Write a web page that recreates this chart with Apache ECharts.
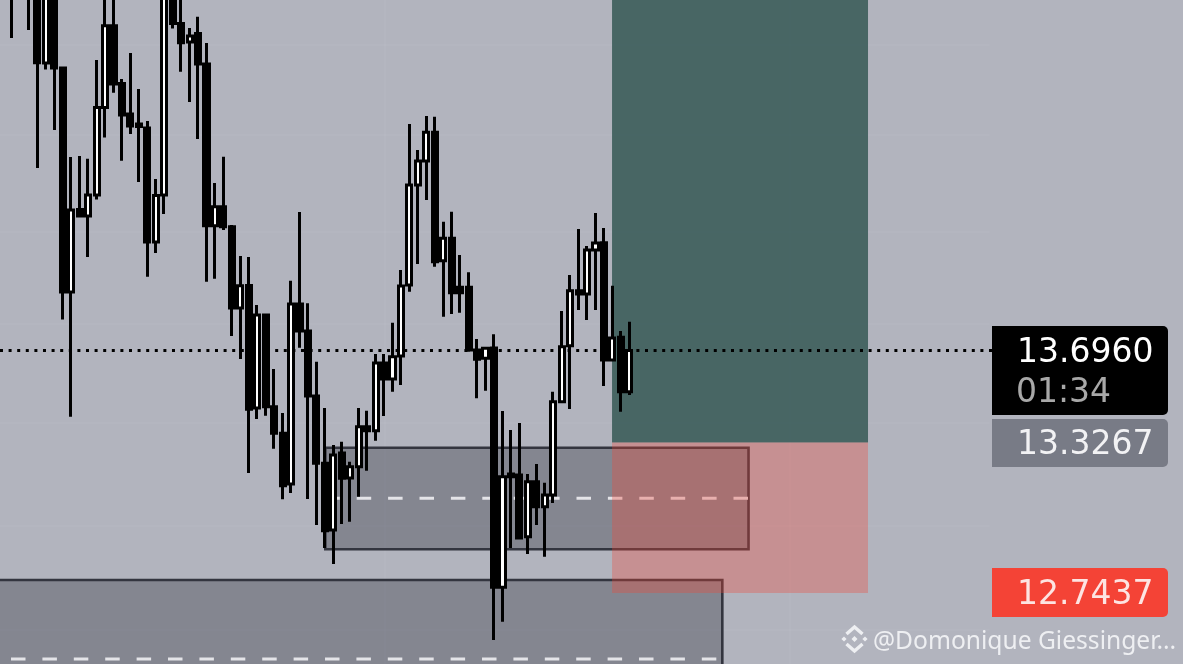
<!DOCTYPE html>
<html>
<head>
<meta charset="utf-8">
<title>chart</title>
<style>
html,body{margin:0;padding:0;background:#b2b4be;}
#main{width:1183px;height:664px;}
</style>
<script src="https://cdn.jsdelivr.net/npm/echarts@6/dist/echarts.min.js"></script>
</head>
<body>
<div id="main"></div>
<script>
"use strict";
/*candles, values. bars above the top edge are estimates*/
let opens = [15.1038,15.2491,15.151,15.1902,14.825,15.1706,14.8054,13.9257,14.2497,14.2242,
    14.3066,14.6502,14.9715,14.7445,14.6247,14.5854,14.5697,14.1221,14.3066,15.1313,
    14.9801,14.9075,14.9408,14.8211,14.1861,14.2607,14.1822,13.8629,13.9513,13.4702,
    13.8354,13.4753,13.3708,13.1717,13.8786,13.7726,13.5173,13.253,12.9911,13.2935,
    13.1953,13.2397,13.3967,13.381,13.6469,13.5841,13.6744,13.9532,14.3459,14.4402,
    14.5529,14.0486,14.1366,13.9442,13.9442,13.6979,13.6654,13.7058,12.7661,13.211,
    13.2071,12.9648,13.1808,13.0826,13.1285,13.4949,13.7148,13.9308,13.9179,14.0906,
    14.1193,13.6587,13.7478,13.5342];
let closes = [15.0842,15.1313,15.1038,14.8262,15.1706,14.8054,13.9257,14.2477,14.2242,14.3066,
    14.6502,14.9715,14.7425,14.6208,14.5776,14.5756,14.1221,14.3047,15.1313,14.9801,
    14.9047,14.931,14.8211,14.1861,14.2607,14.1822,13.8629,13.9505,13.4651,13.8354,
    13.4753,13.3708,13.1651,13.8786,13.7726,13.5173,13.253,12.9883,13.2856,13.1941,
    13.2397,13.3967,13.381,13.6469,13.5841,13.6717,13.9493,14.3459,14.4402,14.5529,
    14.0447,14.1366,13.923,13.923,13.6979,13.6614,13.7046,12.7661,13.2004,13.2004,
    12.9597,13.1808,13.0826,13.1285,13.4949,13.7109,13.9308,13.9179,14.0906,14.1181,
    13.6587,13.7451,13.5342,13.696];
let lows = [14.9232,15.1038,14.9546,14.4127,14.7995,14.5619,13.8177,13.436,14.2183,14.0632,
    14.289,14.5324,14.7084,14.4413,14.5462,14.3577,13.9858,14.0789,14.232,14.9605,
    14.7908,14.6718,14.5265,13.9662,13.978,14.1692,13.7529,13.6626,13.2149,13.427,
    13.44,13.3103,13.1116,13.1364,13.707,13.1128,13.0107,12.9204,12.8576,13.0146,
    13.0237,13.1219,13.224,13.3417,13.4388,13.5342,13.5605,13.9269,14.0357,14.287,
    14.0251,13.8287,13.8393,13.8444,13.6913,13.5083,13.5381,12.5592,12.631,12.9204,
    12.9597,12.8968,13.0107,12.8862,13.0971,13.4938,13.4663,13.855,13.8158,13.855,
    13.5566,13.6587,13.4557,13.5212];
let highs = [15.1706,15.308,15.2295,15.2688,15.2295,15.2295,14.8093,14.4559,14.4598,14.4492,
    14.8368,15.1117,15.1117,14.7622,14.8643,14.7229,14.5972,14.3695,15.1902,15.1902,
    15.1117,14.9624,15.0068,14.9035,14.3538,14.457,14.1888,14.0671,14.0632,13.8747,
    13.8354,13.6233,13.4506,13.9701,14.2399,13.8813,13.652,13.4702,13.3249,13.3378,
    13.2593,13.4702,13.4596,13.6823,13.6823,13.8052,14.0121,14.5854,14.4834,14.6169,
    14.6141,14.2018,14.2411,14.071,14.0031,13.7412,13.7085,13.7596,13.4584,13.3838,
    13.4113,13.211,13.2503,13.1768,13.5342,13.8511,13.9925,14.1731,14.1064,14.2359,
    14.177,13.9505,13.7726,13.8091];

/*price levels*/
let gridLevels = [14.8957,14.5423,14.1614,13.8,13.4113,13.0067,12.5984];
let gridBars = [44.1,92];
let lastPrice = 13.696;
let entryPrice = 13.3347;
let stopPrice = 12.7437;

/*zones: first bar, last bar, low price, high price*/
let demandZoneUpper = [37.05,87.1,12.9153,13.3143];
let demandZoneLower = [-6,84,12.3,12.7947];
let profitZone = [70.96,101.23,entryPrice,15.3];
let lossZone = [70.96,101.23,stopPrice,entryPrice];
let upperMidLine = [37.05,87.1,13.1156];
let lowerMidLine = [-3.83,84,12.4845];

/*price tags on the right*/
let tagLast = "13.6960";
let tagCountdown = "01:34";
let tagEntry = "13.3267";
let tagStop = "12.7437";
let watermark = "@Domonique Giessinger...";

let bars = opens.map((o,i)=>[i,o,closes[i],lows[i],highs[i]]);

let boxSeries = function(box,fill,stroke,z){
    return {
        type:"custom",
        z:z,
        silent:true,
        clip:true,
        data:[box],
        renderItem(params,api){
            let a = api.coord([api.value(0),api.value(3)]);
            let b = api.coord([api.value(1),api.value(2)]);
            return {
                type:"rect",
                shape:{x:a[0],y:a[1],width:b[0]-a[0],height:b[1]-a[1]},
                style:{fill:fill,stroke:stroke,lineWidth:stroke?2.6:0}
            };
        }
    };
};

let levelSeries = function(line,color,width,dash,z){
    return {
        type:"custom",
        z:z,
        silent:true,
        clip:true,
        data:[line],
        renderItem(params,api){
            let a = api.coord([api.value(0),api.value(2)]);
            let b = api.coord([api.value(1),api.value(2)]);
            return {
                type:"line",
                shape:{x1:a[0],y1:a[1],x2:b[0],y2:b[1]},
                style:{stroke:color,lineWidth:width,lineDash:dash}
            };
        }
    };
};

let gridColor = "rgba(255,255,255,0.035)";
let series = [];
gridLevels.forEach(v=>series.push(levelSeries([-2,115.6,v],gridColor,2,null,1)));
gridBars.forEach(v=>{
    series.push({
        type:"custom",z:1,silent:true,clip:true,data:[[v]],
        renderItem(params,api){
            let a = api.coord([api.value(0),16]);
            let b = api.coord([api.value(0),12]);
            return {type:"line",shape:{x1:a[0],y1:a[1],x2:b[0],y2:b[1]},style:{stroke:gridColor,lineWidth:2}};
        }
    });
});
series.push(boxSeries(demandZoneLower,"rgba(51,53,63,0.36)","#33353f",2));
series.push(boxSeries(demandZoneUpper,"rgba(51,53,63,0.36)","#33353f",2));
series.push(levelSeries(upperMidLine,"#e4e4e8",3,[14.5,16.9],3));
series.push(levelSeries(lowerMidLine,"#e4e4e8",3,[14.5,16.9],3));
series.push(boxSeries(profitZone,"rgba(45,82,78,0.8)",null,4));
series.push(boxSeries(lossZone,"rgba(244,67,54,0.32)",null,4));
series.push(levelSeries([-1.42,115.9,lastPrice],"#000",3,[3,5.6],5));
series.push({
    type:"candlestick",
    z:6,
    silent:true,
    barWidth:5.6,
    encode:{x:0,y:[1,2,3,4]},
    itemStyle:{
        color:"#ffffff",
        color0:"#000000",
        borderColor:"#000000",
        borderColor0:"#000000",
        borderWidth:3
    },
    data:bars
});

/*right hand tags and binance mark*/
let tagFont = "33px 'DejaVu Sans', sans-serif";
let tagText = function(x,y,text,color,font){
    return {type:"text",z:20,x:x,y:y,style:{text:text,fill:color,font:font||tagFont,verticalAlign:"middle",align:"left"}};
};
let tagBox = function(y,h,color,r){
    return {type:"rect",z:19,shape:{x:992,y:y,width:176,height:h,r:r},style:{fill:color}};
};
let diamond = function(cx,cy,d){
    return {type:"polygon",z:20,shape:{points:[[cx,cy-d],[cx+d,cy],[cx,cy+d],[cx-d,cy]]},style:{fill:"#eeeff2"}};
};
let chevron = function(cy,dir){
    return {
        type:"polyline",z:20,
        shape:{points:[[846.5,cy],[854.5,cy-dir*7],[862.5,cy]]},
        style:{fill:"none",stroke:"#eeeff2",lineWidth:3.4}
    };
};

let chart = echarts.init(document.getElementById("main"));
chart.setOption({
    animation:false,
    backgroundColor:"#b2b4be",
    grid:{left:0,right:0,top:0,bottom:0},
    xAxis:{type:"value",min:-1.419,max:138.48,show:false,splitLine:{show:false}},
    yAxis:{type:"value",min:12.4649,max:15.0724,show:false,scale:true,splitLine:{show:false}},
    series:series,
    graphic:[
        tagBox(326,89,"#000000",[0,5,5,0]),
        tagBox(419,48,"#787b86",[0,5,5,0]),
        tagBox(568,49,"#f44336",[0,5,5,0]),
        tagText(1017,353,tagLast,"#ffffff"),
        tagText(1016,393.5,tagCountdown,"#a8a8a8"),
        tagText(1017,445,tagEntry,"#f2f2f4"),
        tagText(1017,595,tagStop,"#fde4e2"),
        diamond(854.5,639,3),
        diamond(844,639,2.6),
        diamond(865,639,2.6),
        chevron(634,1),
        chevron(644,-1),
        tagText(873,642,watermark,"#eeeff2","24.6px 'Noto Sans', sans-serif")
    ]
});
</script>
</body>
</html>
